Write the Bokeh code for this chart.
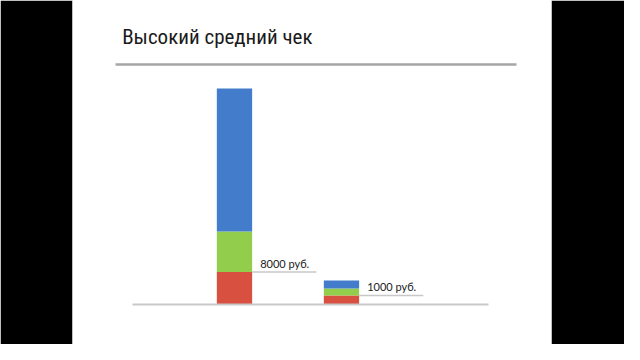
from bokeh.plotting import figure
from bokeh.models import Range1d, ColumnDataSource
from bokeh.core.properties import value
from bokeh.embed import file_html
from bokeh.resources import INLINE

# ---- data ----
categories = ["Высокий чек", "Низкий чек"]
red = [1200, 330]
green = [1500, 260]
blue = [5300, 300]
labels = ["8000 руб.", "1000 руб."]
title_text = "Высокий средний чек"

colors = ["#d85140", "#92cd4b", "#437ccb"]
xs = list(range(len(categories)))
bar_w = 0.33

p = figure(width=624, height=344, output_backend="svg", toolbar_location=None,
           x_axis_type=None, y_axis_type=None,
           x_range=Range1d(-1.514, 2.963), y_range=Range1d(-1481, 11259))
p.min_border = 0
p.min_border_left = 72
p.min_border_right = 73
p.min_border_top = 0
p.min_border_bottom = 0
p.border_fill_color = "black"
p.background_fill_color = "white"
p.outline_line_color = None
p.grid.visible = False

src = ColumnDataSource(dict(x=xs, red=red, green=green, blue=blue))
p.vbar_stack(["red", "green", "blue"], x="x", width=bar_w, color=colors,
             line_color=None, source=src)

# baseline
p.segment(x0=[-0.953], y0=[0], x1=[2.374], y1=[0], line_color="#c8c8c8", line_width=2)

# label lines and labels at top of red segment
lx0 = [x + bar_w / 2 for x in xs]
lx1 = [x + 0.6 for x in lx0]
p.segment(x0=lx0, y0=red, x1=lx1, y1=red, line_color="#c8c8c8", line_width=1.5)
p.text(x=lx0, y=red, text=labels, x_offset=8, y_offset=-9,
       text_font=value("Lato"), text_font_size="11px", text_color="#222222",
       text_baseline="middle", text_align="left")

# slide title and rule
p.text(x=[-1.05], y=[9550], text=[title_text], text_font=value("Roboto Condensed"),
       text_font_size="21px", text_color="#1a1a1a", text_baseline="middle", y_offset=-10)
p.segment(x0=[-1.112], y0=[8889], x1=[2.636], y1=[8889], line_color="#a6a6a6", line_width=2.5)

open("out.html", "w").write(file_html(p, INLINE))
